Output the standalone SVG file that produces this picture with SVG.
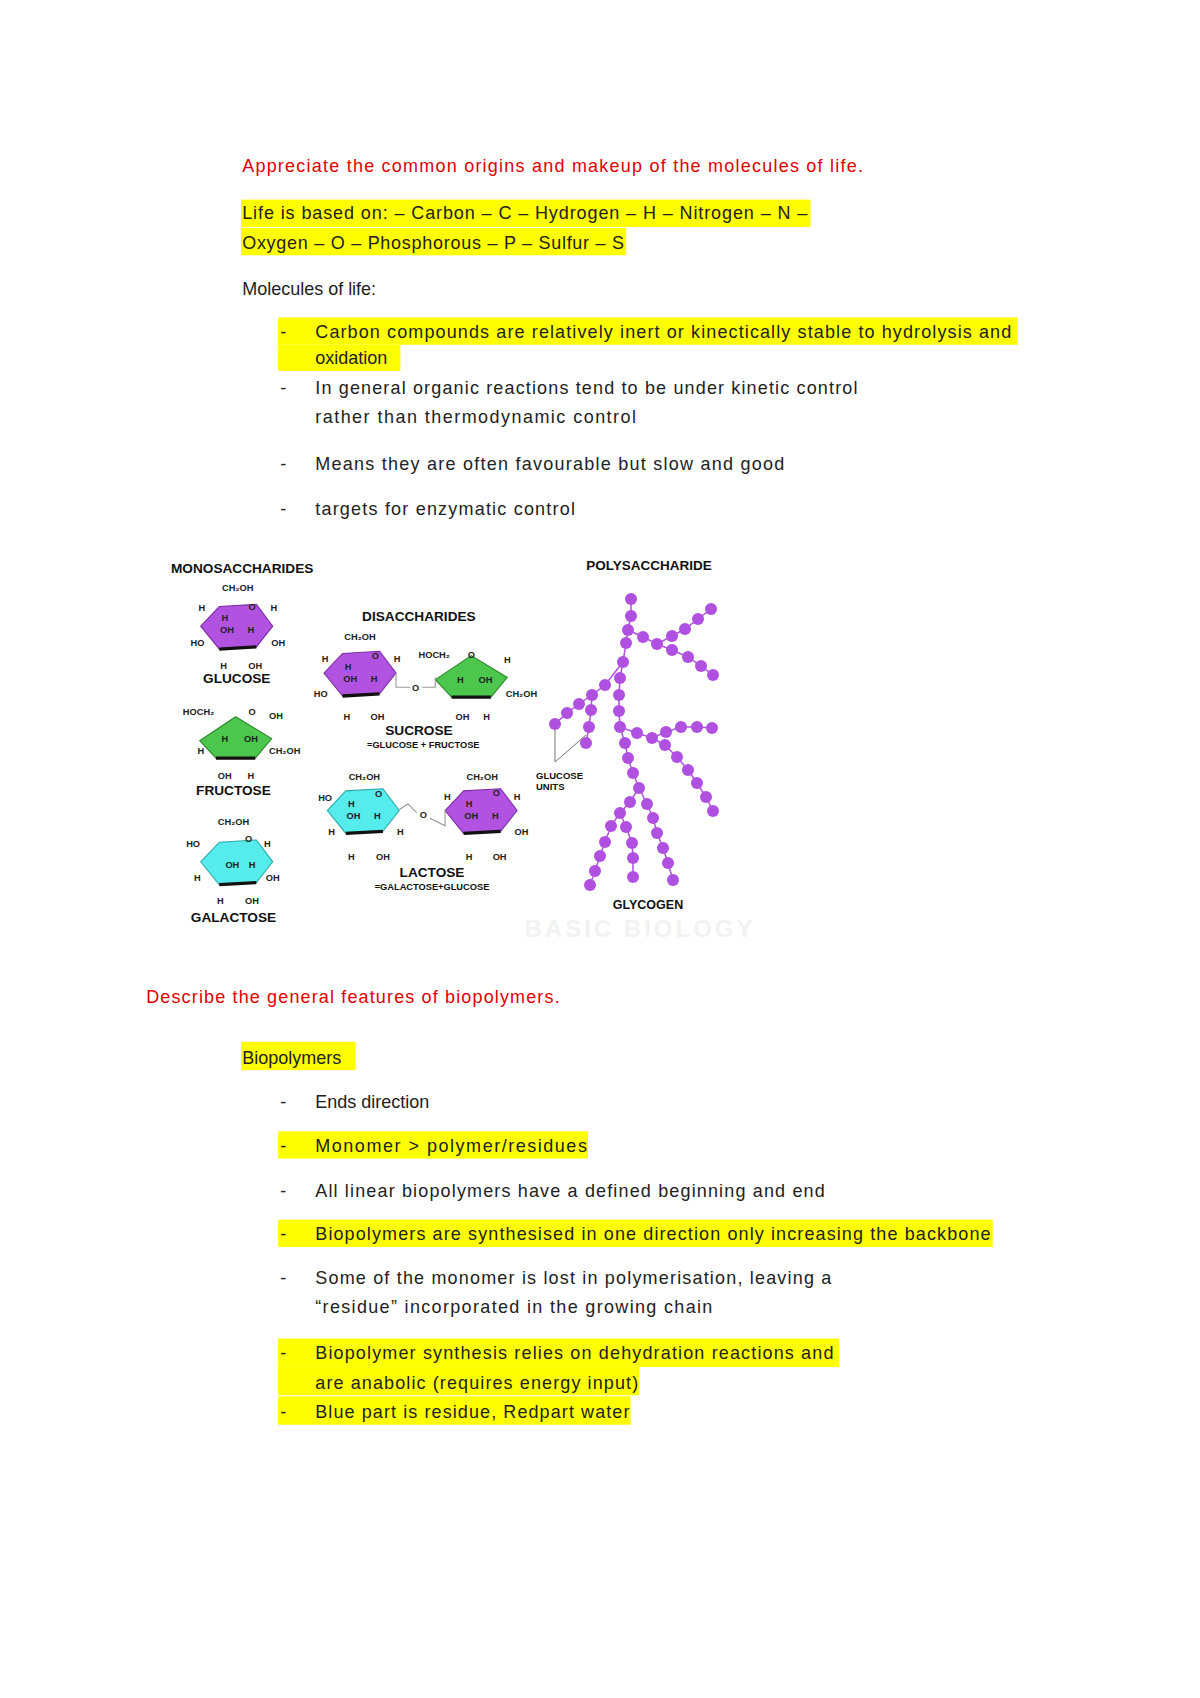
<svg xmlns="http://www.w3.org/2000/svg" width="1200" height="1698" viewBox="0 0 1200 1698">
<style>
.t{font-family:"Liberation Sans",Arial,sans-serif;font-size:16.5px;fill:#222}
.r{fill:#e00000}
.hl{fill:#ffff00}
.c{font-family:"Liberation Sans",Arial,sans-serif;font-weight:bold;font-size:8.5px;fill:#222;text-anchor:middle}
.ti{font-family:"Liberation Sans",Arial,sans-serif;font-weight:bold;font-size:12.5px;fill:#111;text-anchor:middle}
.sub{font-family:"Liberation Sans",Arial,sans-serif;font-weight:bold;font-size:8.5px;fill:#111;text-anchor:middle}
.pu{fill:#b252e0;stroke:#7a2fa6;stroke-width:1}
.gr{fill:#4cc64c;stroke:#2a8a2a;stroke-width:1}
.cy{fill:#56ecec;stroke:#2aa9a9;stroke-width:1}
.bt{fill:none;stroke:#111;stroke-width:3}
.ln{fill:none;stroke:#999;stroke-width:1}
.dot{fill:#b050e0}
.bd{stroke:#b050e0;stroke-width:1.5;fill:none}
</style>
<defs>
<path id="hex" d="M-33,0 L-16,-18 L18,-20 L33,0 L18,19 L-16,21 Z"/>
<path id="hexb" d="M-16,21 L18,19"/>
<path id="pent" d="M-33,2 L0,-20 L33,0 L18,18 L-18,18 Z"/>
<path id="pentb" d="M-18,18 L18,18"/>
</defs>
<rect width="1200" height="1698" fill="#fff"/>
<g transform="scale(1.0909)">
<g id="text">
<text class="t r" x="222" y="158" textLength="569">Appreciate the common origins and makeup of the molecules of life.</text>
<rect class="hl" x="221" y="183" width="522" height="25"/>
<rect class="hl" x="221" y="209" width="353" height="25"/>
<text class="t" x="222" y="201" textLength="518">Life is based on: – Carbon – C – Hydrogen – H – Nitrogen – N –</text>
<text class="t" x="222" y="228" textLength="350">Oxygen – O – Phosphorous – P – Sulfur – S</text>
<text class="t" x="222" y="270">Molecules of life:</text>
<rect class="hl" x="255" y="291" width="678" height="25"/>
<rect class="hl" x="255" y="316" width="112" height="24"/>
<text class="t" x="257" y="310">-</text>
<text class="t" x="289" y="310" textLength="638">Carbon compounds are relatively inert or kinectically stable to hydrolysis and</text>
<text class="t" x="289" y="334">oxidation</text>
<text class="t" x="257" y="361">-</text>
<text class="t" x="289" y="361" textLength="497">In general organic reactions tend to be under kinetic control</text>
<text class="t" x="289" y="388" textLength="294">rather than thermodynamic control</text>
<text class="t" x="257" y="431">-</text>
<text class="t" x="289" y="431" textLength="430">Means they are often favourable but slow and good</text>
<text class="t" x="257" y="472">-</text>
<text class="t" x="289" y="472" textLength="238">targets for enzymatic control</text>
<text class="t r" x="134" y="919" textLength="379">Describe the general features of biopolymers.</text>
<rect class="hl" x="221" y="955" width="105" height="26"/>
<text class="t" x="222" y="975">Biopolymers</text>
<text class="t" x="257" y="1016">-</text>
<text class="t" x="289" y="1016">Ends direction</text>
<rect class="hl" x="255" y="1037" width="284" height="25"/>
<text class="t" x="257" y="1056">-</text>
<text class="t" x="289" y="1056" textLength="249">Monomer &gt; polymer/residues</text>
<text class="t" x="257" y="1097">-</text>
<text class="t" x="289" y="1097" textLength="467">All linear biopolymers have a defined beginning and end</text>
<rect class="hl" x="255" y="1118" width="655" height="25"/>
<text class="t" x="257" y="1137">-</text>
<text class="t" x="289" y="1137" textLength="619">Biopolymers are synthesised in one direction only increasing the backbone</text>
<text class="t" x="257" y="1177">-</text>
<text class="t" x="289" y="1177" textLength="473">Some of the monomer is lost in polymerisation, leaving a</text>
<text class="t" x="289" y="1204" textLength="364">“residue” incorporated in the growing chain</text>
<rect class="hl" x="255" y="1227" width="514" height="26"/>
<rect class="hl" x="255" y="1253" width="331" height="26"/>
<rect class="hl" x="255" y="1280" width="323" height="26"/>
<text class="t" x="257" y="1246">-</text>
<text class="t" x="289" y="1246" textLength="475">Biopolymer synthesis relies on dehydration reactions and</text>
<text class="t" x="289" y="1273" textLength="296">are anabolic (requires energy input)</text>
<text class="t" x="257" y="1300">-</text>
<text class="t" x="289" y="1300" textLength="288">Blue part is residue, Redpart water</text>
</g>
<g id="monosaccharides">
<text class="ti" x="222" y="525">MONOSACCHARIDES</text>
<g id="glucose" transform="translate(217,574)">
<use href="#hex" class="pu"/><use href="#hexb" class="bt"/>
<text class="c" x="1" y="-32">CH₂OH</text><text class="c" x="-32" y="-14">H</text><text class="c" x="14" y="-15">O</text><text class="c" x="34" y="-14">H</text>
<text class="c" x="-11" y="-5">H</text><text class="c" x="-9" y="6">OH</text><text class="c" x="13" y="6">H</text>
<text class="c" x="-36" y="18">HO</text><text class="c" x="38" y="18">OH</text>
<text class="c" x="-12" y="39">H</text><text class="c" x="17" y="39">OH</text>
<text class="ti" x="0" y="52">GLUCOSE</text>
</g>
<g id="fructose" transform="translate(216,677)">
<use href="#pent" class="gr"/><use href="#pentb" class="bt"/>
<text class="c" x="-34" y="-22">HOCH₂</text><text class="c" x="15" y="-22">O</text><text class="c" x="37" y="-18">OH</text>
<text class="c" x="-10" y="3">H</text><text class="c" x="14" y="3">OH</text>
<text class="c" x="-32" y="14">H</text><text class="c" x="45" y="14">CH₂OH</text>
<text class="c" x="-10" y="37">OH</text><text class="c" x="14" y="37">H</text>
<text class="ti" x="-2" y="52">FRUCTOSE</text>
</g>
<g id="galactose" transform="translate(217,790)">
<use href="#hex" class="cy"/><use href="#hexb" class="bt"/>
<text class="c" x="-3" y="-34">CH₂OH</text><text class="c" x="-40" y="-14">HO</text><text class="c" x="11" y="-18">O</text><text class="c" x="28" y="-14">H</text>
<text class="c" x="-4" y="6">OH</text><text class="c" x="14" y="6">H</text>
<text class="c" x="-36" y="18">H</text><text class="c" x="33" y="18">OH</text>
<text class="c" x="-15" y="39">H</text><text class="c" x="14" y="39">OH</text>
<text class="ti" x="-3" y="55">GALACTOSE</text>
</g>
</g>
<g id="disaccharides">
<text class="ti" x="384" y="569">DISACCHARIDES</text>
<g id="sucrose">
<g transform="translate(330,617)"><use href="#hex" class="pu"/><use href="#hexb" class="bt"/>
<text class="c" x="0" y="-30">CH₂OH</text><text class="c" x="-32" y="-10">H</text><text class="c" x="14" y="-13">O</text><text class="c" x="34" y="-10">H</text>
<text class="c" x="-11" y="-3">H</text><text class="c" x="-9" y="8">OH</text><text class="c" x="13" y="8">H</text>
<text class="c" x="-36" y="22">HO</text><text class="c" x="-12" y="43">H</text><text class="c" x="16" y="43">OH</text></g>
<g transform="translate(432,621)"><use href="#pent" class="gr"/><use href="#pentb" class="bt"/>
<text class="c" x="-34" y="-18">HOCH₂</text><text class="c" x="0" y="-18">O</text><text class="c" x="33" y="-13">H</text>
<text class="c" x="-10" y="5">H</text><text class="c" x="13" y="5">OH</text><text class="c" x="46" y="18">CH₂OH</text>
<text class="c" x="-8" y="39">OH</text><text class="c" x="14" y="39">H</text></g>
<path class="ln" d="M363,617 L363,630 L376,630 M387,630 L399,630 L399,621"/>
<text class="c" x="381" y="633">O</text>
<text class="ti" x="384" y="674">SUCROSE</text>
<text class="sub" x="388" y="686">=GLUCOSE + FRUCTOSE</text>
</g>
<g id="lactose">
<g transform="translate(333,743)"><use href="#hex" class="cy"/><use href="#hexb" class="bt"/>
<text class="c" x="1" y="-28">CH₂OH</text><text class="c" x="-35" y="-9">HO</text><text class="c" x="14" y="-12">O</text>
<text class="c" x="-11" y="-3">H</text><text class="c" x="-9" y="8">OH</text><text class="c" x="13" y="8">H</text>
<text class="c" x="-29" y="22">H</text><text class="c" x="34" y="22">H</text>
<text class="c" x="-11" y="45">H</text><text class="c" x="18" y="45">OH</text></g>
<g transform="translate(441,743)"><use href="#hex" class="pu"/><use href="#hexb" class="bt"/>
<text class="c" x="1" y="-28">CH₂OH</text><text class="c" x="-31" y="-10">H</text><text class="c" x="14" y="-13">O</text><text class="c" x="33" y="-10">H</text>
<text class="c" x="-11" y="-3">H</text><text class="c" x="-9" y="8">OH</text><text class="c" x="13" y="8">H</text>
<text class="c" x="37" y="22">OH</text>
<text class="c" x="-11" y="45">H</text><text class="c" x="17" y="45">OH</text></g>
<path class="ln" d="M366,742 L374,737 L382,745 M394,750 L408,757 L408,743"/>
<text class="c" x="388" y="750">O</text>
<text class="ti" x="396" y="804">LACTOSE</text>
<text class="sub" x="396" y="816">=GALACTOSE+GLUCOSE</text>
</g>
</g>
</g>
<g id="polysaccharide">
<text class="ti" x="649" y="570" style="font-size:13.5px">POLYSACCHARIDE</text>
<g class="bd">
<polyline points="631,599 631,616 628,630 626,643 623,662 620,678 619,695 619,711 620,727 625,743 628,758 633,773 639,788 630,802 620,813 611,826 605,842 600,856 595,871 590,885"/>
<polyline points="639,788 647,804 653,818 657,833 663,848 668,863 673,880"/>
<polyline points="620,813 626,827 632,843 633,858 633,877"/>
<polyline points="628,630 643,637 657,644 672,636 685,629 698,619 711,609"/>
<polyline points="657,644 672,650 688,657 701,666 713,675"/>
<polyline points="623,662 605,685 592,695 579,704 567,713 555,724"/>
<polyline points="592,695 591,710 589,727 586,743"/>
<polyline points="620,727 637,733 652,738 666,732 681,727 697,727 712,728"/>
<polyline points="652,738 665,745 677,757 688,770 697,783 706,797 713,811"/>
</g>
<g class="dot">
<circle cx="631" cy="599" r="6"/><circle cx="631" cy="616" r="6"/><circle cx="628" cy="630" r="6"/><circle cx="626" cy="643" r="6"/><circle cx="623" cy="662" r="6"/><circle cx="620" cy="678" r="6"/><circle cx="619" cy="695" r="6"/><circle cx="619" cy="711" r="6"/><circle cx="620" cy="727" r="6"/><circle cx="625" cy="743" r="6"/><circle cx="628" cy="758" r="6"/><circle cx="633" cy="773" r="6"/><circle cx="639" cy="788" r="6"/><circle cx="630" cy="802" r="6"/><circle cx="620" cy="813" r="6"/><circle cx="611" cy="826" r="6"/><circle cx="605" cy="842" r="6"/><circle cx="600" cy="856" r="6"/><circle cx="595" cy="871" r="6"/><circle cx="590" cy="885" r="6"/>
<circle cx="647" cy="804" r="6"/><circle cx="653" cy="818" r="6"/><circle cx="657" cy="833" r="6"/><circle cx="663" cy="848" r="6"/><circle cx="668" cy="863" r="6"/><circle cx="673" cy="880" r="6"/>
<circle cx="626" cy="827" r="6"/><circle cx="632" cy="843" r="6"/><circle cx="633" cy="858" r="6"/><circle cx="633" cy="877" r="6"/>
<circle cx="643" cy="637" r="6"/><circle cx="657" cy="644" r="6"/><circle cx="672" cy="636" r="6"/><circle cx="685" cy="629" r="6"/><circle cx="698" cy="619" r="6"/><circle cx="711" cy="609" r="6"/>
<circle cx="672" cy="650" r="6"/><circle cx="688" cy="657" r="6"/><circle cx="701" cy="666" r="6"/><circle cx="713" cy="675" r="6"/>
<circle cx="605" cy="685" r="6"/><circle cx="592" cy="695" r="6"/><circle cx="579" cy="704" r="6"/><circle cx="567" cy="713" r="6"/><circle cx="555" cy="724" r="6"/>
<circle cx="591" cy="710" r="6"/><circle cx="589" cy="727" r="6"/><circle cx="586" cy="743" r="6"/>
<circle cx="637" cy="733" r="6"/><circle cx="652" cy="738" r="6"/><circle cx="666" cy="732" r="6"/><circle cx="681" cy="727" r="6"/><circle cx="697" cy="727" r="6"/><circle cx="712" cy="728" r="6"/>
<circle cx="665" cy="745" r="6"/><circle cx="677" cy="757" r="6"/><circle cx="688" cy="770" r="6"/><circle cx="697" cy="783" r="6"/><circle cx="706" cy="797" r="6"/><circle cx="713" cy="811" r="6"/>
</g>
<path class="ln" d="M555,730 L555,762 L586,735" style="stroke:#777"/>
<text class="sub" x="536" y="779" style="text-anchor:start;font-size:9.5px">GLUCOSE</text>
<text class="sub" x="536" y="790" style="text-anchor:start;font-size:9.5px">UNITS</text>
<text class="ti" x="648" y="909">GLYCOGEN</text>
<text x="640" y="937" style="font-family:'Liberation Sans',sans-serif;font-weight:bold;font-size:24px;fill:#f2f2f2;text-anchor:middle;letter-spacing:3px">BASIC BIOLOGY</text>
</g>
</svg>
